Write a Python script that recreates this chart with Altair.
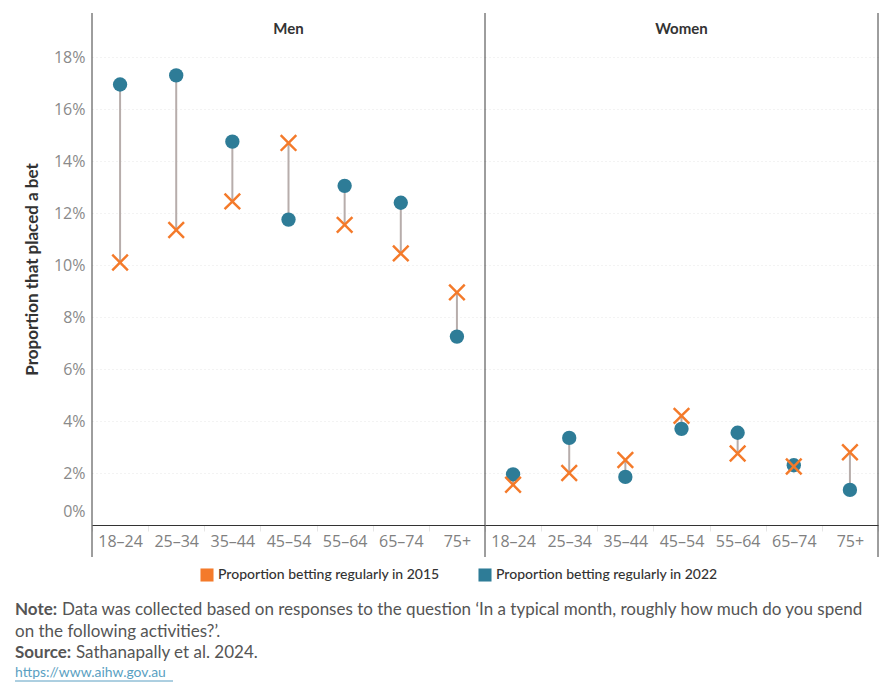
import altair as alt
import pandas as pd

ages = ["18–24", "25–34", "35–44", "45–54", "55–64", "65–74", "75+"]
men_2015 = [10.1, 11.35, 12.45, 14.7, 11.55, 10.45, 8.95]
men_2022 = [16.95, 17.3, 14.75, 11.75, 13.05, 12.4, 7.25]
women_2015 = [1.55, 2.0, 2.5, 4.2, 2.75, 2.25, 2.8]
women_2022 = [1.95, 3.35, 1.85, 3.7, 3.55, 2.3, 1.35]
sexes = ["Men", "Women"]
series = ["Proportion betting regularly in 2015", "Proportion betting regularly in 2022"]
y_ticks = [0, 2, 4, 6, 8, 10, 12, 14, 16, 18]

note1 = "Data was collected based on responses to the question ‘In a typical month, roughly how much do you spend"
note2 = "on the following activities?’."
source = "Sathanapally et al. 2024."
url = "https://www.aihw.gov.au"

wide = pd.DataFrame({
    "sex": ["Men"] * 7 + ["Women"] * 7,
    "age": ages + ages,
    "v2015": men_2015 + women_2015,
    "v2022": men_2022 + women_2022,
})
long = pd.concat([
    pd.DataFrame({"sex": wide["sex"], "age": wide["age"], "series": series[0], "value": wide["v2015"]}),
    pd.DataFrame({"sex": wide["sex"], "age": wide["age"], "series": series[1], "value": wide["v2022"]}),
])

ORANGE = "#f47a2a"
TEAL = "#2e7c97"
W, H = 393, 512
FONT = "Lato"
AFONT = "Open Sans"

d = 0.2
e = 1 - d
XPATH = (f"M0,-{d}L{e},-1L1,-{e}L{d},0L1,{e}L{e},1L0,{d}L-{e},1L-1,{e}L-{d},0L-1,-{e}L-{e},-1Z")

color = alt.Color(
    "series:N",
    scale=alt.Scale(domain=series, range=[ORANGE, TEAL]),
    legend=alt.Legend(
        orient="none", legendX=108, legendY=555, direction="horizontal", title=None,
        symbolType="square", symbolSize=170, labelFont=FONT, labelFontSize=14,
        labelColor="#333333", labelFontWeight=500, columnPadding=38, symbolStrokeWidth=0,
        labelLimit=0,
    ),
)


def panel(sex, first):
    x = alt.X(
        "age:N", sort=ages, title=None,
        scale=alt.Scale(type="band", paddingInner=0, paddingOuter=0),
        axis=alt.Axis(labelAngle=0, labelFont=AFONT, labelFontSize=16, labelColor="#808080",
                      labelPadding=2, domainColor="#333333", domainWidth=1,
                      tickBand="extent", tickColor="#e6e6e6", tickSize=6),
    )
    if first:
        yaxis = alt.Axis(values=y_ticks, labelExpr="datum.value + '%'", labelFont=AFONT,
                         labelFontSize=16, labelColor="#8a8a8a", labelPadding=7,
                         labelFlush=True, labelFlushOffset=-6,
                         ticks=False, domain=False, title="Proportion that placed a bet",
                         titleFont=FONT, titleFontSize=17, titleFontWeight="bold",
                         titleColor="#333333", titlePadding=12,
                         grid=True, gridColor="#e6e6e6", gridDash=[1, 3])
    else:
        yaxis = alt.Axis(values=y_ticks, labels=False, ticks=False, domain=False, title=None,
                         grid=True, gridColor="#e6e6e6", gridDash=[1, 3])
    y_scale = alt.Scale(domain=[0, 19.7], nice=False, zero=True)

    w = wide[wide["sex"] == sex]
    l = long[long["sex"] == sex]
    rules = alt.Chart(w).mark_rule(color="#b7adab", strokeWidth=2).encode(
        x=x, y=alt.Y("v2015:Q", scale=y_scale, axis=yaxis), y2="v2022:Q")
    circles = alt.Chart(l[l["series"] == series[1]]).mark_point(
        shape="circle", filled=True, size=205, opacity=1).encode(
        x=x, y=alt.Y("value:Q", scale=y_scale), color=color)
    crosses = alt.Chart(l[l["series"] == series[0]]).mark_point(
        shape=XPATH, filled=True, size=300, opacity=1).encode(
        x=x, y=alt.Y("value:Q", scale=y_scale), color=color)

    hdr = pd.DataFrame({"t": [sex]})
    header = alt.Chart(hdr).mark_text(font=FONT, fontSize=15, fontWeight="bold",
                                      color="#333333", baseline="middle").encode(
        x=alt.value(W / 2), y=alt.value(16), text="t:N")
    border_l = alt.Chart(hdr).mark_rule(color="#3c3c3c", strokeWidth=1).encode(
        x=alt.value(0), y=alt.value(0), y2=alt.value(544))
    layers = [rules, circles, crosses, header, border_l]
    if not first:
        border_r = alt.Chart(hdr).mark_rule(color="#3c3c3c", strokeWidth=1).encode(
            x=alt.value(W), y=alt.value(0), y2=alt.value(544))
        layers.append(border_r)
    else:
        notes = pd.DataFrame({"a": ["Note:"], "b": [note1], "c": [note2], "s": ["Source:"],
                              "sb": [source], "u": [url]})
        base = alt.Chart(notes)
        tc = dict(font=FONT, fontSize=17, color="#555555", align="left", baseline="middle")
        layers += [
            base.mark_text(fontWeight="bold", **tc).encode(x=alt.value(-77), y=alt.value(597), text="a:N"),
            base.mark_text(**tc).encode(x=alt.value(-30), y=alt.value(597), text="b:N"),
            base.mark_text(**tc).encode(x=alt.value(-77), y=alt.value(619), text="c:N"),
            base.mark_text(fontWeight="bold", **tc).encode(x=alt.value(-77), y=alt.value(640), text="s:N"),
            base.mark_text(**tc).encode(x=alt.value(-16), y=alt.value(640), text="sb:N"),
            base.mark_text(font=FONT, fontSize=13.9, color="#5a9fc2", align="left",
                           baseline="middle").encode(x=alt.value(-77), y=alt.value(660), text="u:N"),
            base.mark_rule(color="#5a9fc2", strokeWidth=1).encode(
                x=alt.value(-77), x2=alt.value(81), y=alt.value(668)),
        ]
    return alt.layer(*layers).properties(width=W, height=H)


chart = alt.hconcat(panel("Men", True), panel("Women", False), spacing=0, bounds="flush").properties(
    padding={"left": 14, "top": 12, "right": 5, "bottom": 5}
).configure_view(stroke=None).resolve_scale(color="shared")

chart.save("out.html", embed_options={"renderer": "svg", "actions": False})
